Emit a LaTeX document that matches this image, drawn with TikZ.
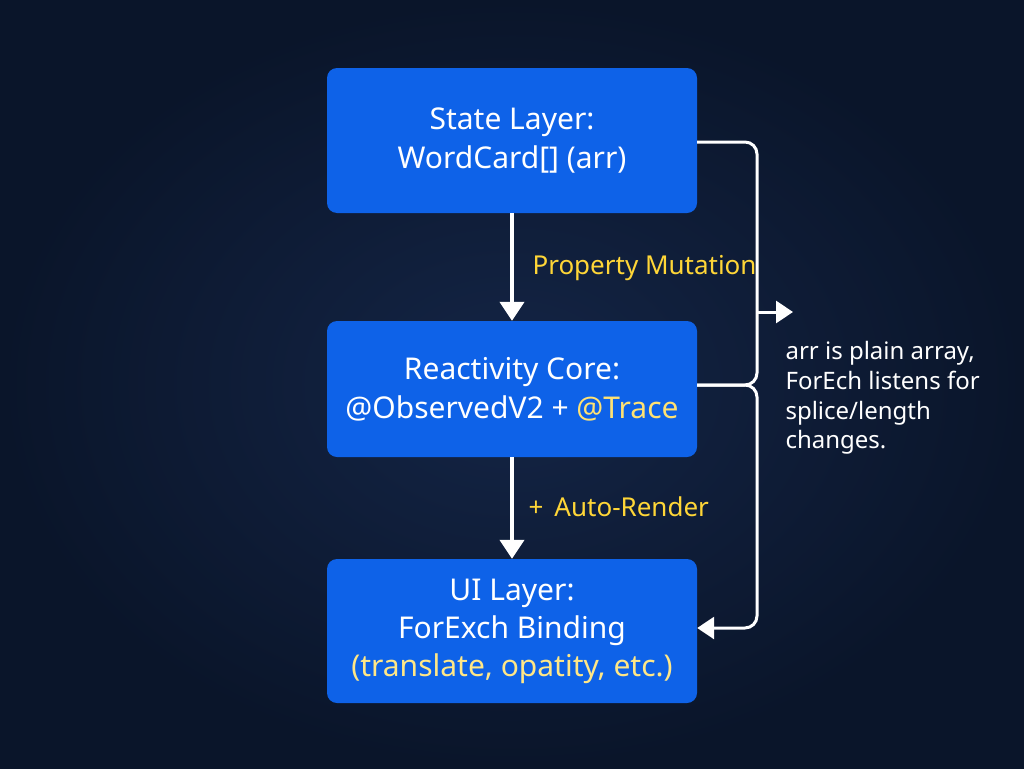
\documentclass[tikz,border=0pt]{standalone}
\usepackage{fontspec}
\setmainfont{Noto Sans}
\usetikzlibrary{arrows.meta,calc}
\definecolor{bgin}{RGB}{20,37,70}
\definecolor{bgout}{RGB}{10,21,42}
\definecolor{boxblue}{RGB}{14,98,232}
\definecolor{labyellow}{RGB}{255,214,55}
\tikzset{
  layerbox/.style={fill=boxblue, rounded corners=10pt, minimum width=370pt, text=white, align=center, font=\fontsize{30}{39}\selectfont},
  flowarrow/.style={draw=white, line width=4pt, -{Triangle[length=19pt,width=24pt]}},
  sidearrow/.style={draw=white, line width=3pt, rounded corners=12pt},
  sidetip/.style={-{Triangle[length=17pt,width=22pt]}},
  arrowlabel/.style={text=labyellow, anchor=west, font=\fontsize{26}{30}\selectfont},
  notetext/.style={text=white, anchor=north west, align=left, font=\fontsize{24}{29.7}\selectfont}
}
\begin{document}
\begin{tikzpicture}[x=1pt,y=-1pt]
\useasboundingbox (0,0) rectangle (1024,768);
\shade[inner color=bgin, outer color=bgout] (0,0) rectangle (1024,768);

\node[layerbox, minimum height=145pt] (b1) at (512,140.5) {State Layer:\\WordCard[] (arr)};
\node[layerbox, minimum height=136pt] (b2) at (512,389) {Reactivity Core:\\@ObservedV2 + \textcolor{labyellow!70!white}{@Trace}};
\node[layerbox, minimum height=144pt, font=\fontsize{30}{38}\selectfont] (b3) at (512,631) {UI Layer:\\ForExch Binding\\\textcolor{labyellow!60!white}{(translate, opatity, etc.)}};

\draw[flowarrow] (b1.south) -- (b2.north);
\draw[flowarrow] (b2.south) -- (b3.north);

\node[arrowlabel] (l1) at (529,268) {Property Mutation};
\node[arrowlabel] (l2) at (525,507) {+\, Auto-Render};

\coordinate (c1) at ($(b1.east)+(0,1.5)$);
\coordinate (c2) at ($(b2.east)+(0,-4)$);
\coordinate (c3) at ($(b3.east)+(0,-3)$);
\coordinate (j) at (757,312);
\coordinate (t) at (793,312);

\draw[sidearrow] (c1) -- (757,142) -- (757,385) -- (c2);
\draw[sidearrow, sidetip] (c2) -- (757,385) -- (757,628) -- (c3);
\draw[white, line width=3pt, sidetip] (j) -- (t);

\node[notetext] (note) at (782,338) {arr is plain array,\\ForEch listens for\\splice/length\\changes.};
\end{tikzpicture}
\end{document}
